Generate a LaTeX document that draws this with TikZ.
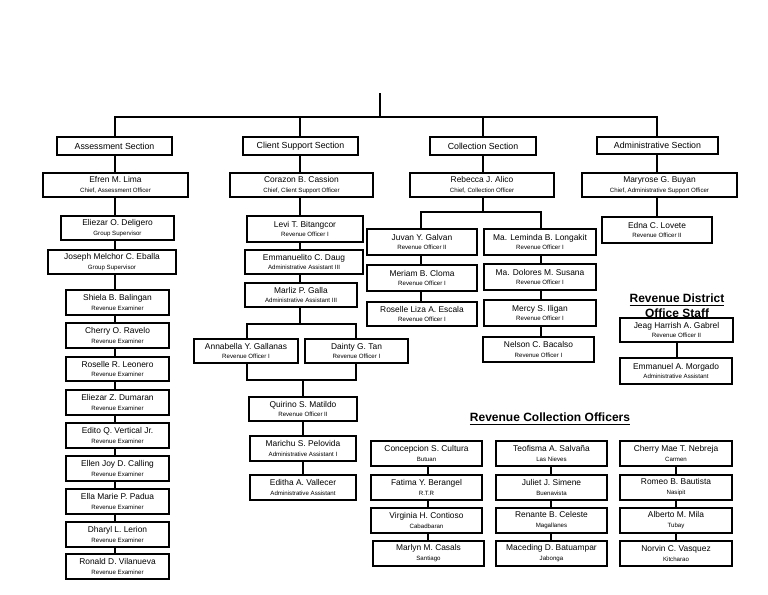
\documentclass[tikz,border=0pt]{standalone}
\usepackage{fontspec}
\setmainfont{Liberation Sans}
\usetikzlibrary{fit}
\newcommand\nm{\fontsize{6.3}{7.4}\selectfont}
\newcommand\sbt{\fontsize{4.6}{5.5}\selectfont}
\newcommand\bx[7]{\node[box,fit={(#2,#3)(#4,#5)}] (#1) {};
  \node[align=center,inner sep=0pt,font=\nm] at (#1.center) {#6\\{\sbt #7}};}
\newcommand\sx[6]{\node[box,fit={(#2,#3)(#4,#5)}] (#1) {};
  \node[inner sep=0pt] at (#1.center) {\fontsize{6.6}{7}\selectfont #6};}
\begin{document}
\begin{tikzpicture}[x=0.75pt,y=-0.75pt,
  box/.style={draw,line width=0.9pt,inner sep=0pt,fill=white},
  con/.style={line width=1.2pt}]
\useasboundingbox (0,0) rectangle (768,594);
\coordinate (top) at (380,93);
\coordinate (bar) at (380,117);
\foreach \n/\xx in {xa/115,xc/300,xq/303,xl/421,xr/541,xd/657,xs/677,xg1/428,xg2/551,xg3/676,xb1/247,xb2/356,xo/483}
  \coordinate (\n) at (\xx,0);
% sections
\sx{ass}{57}{137}{172}{155}{Assessment Section}
\sx{cli}{243}{137}{358}{155}{Client Support Section}
\sx{col}{430}{137}{536}{155}{Collection Section}
\sx{adm}{597}{137}{718}{154}{Administrative Section}
\draw[con] (top) -- (bar);
\draw[con] (ass.north -| xa) -- (xa |- bar) -- (xd |- bar) -- (adm.north -| xd);
\draw[con] (cli.north -| xc) -- (xc |- bar);
\draw[con] (col.north -| xo) -- (xo |- bar);
% chiefs
\bx{efr}{43}{173}{188}{197}{Efren M. Lima}{Chief, Assessment Officer}
\bx{cor}{230}{173}{373}{197}{Corazon B. Cassion}{Chief, Client Support Officer}
\bx{reb}{410}{173}{554}{197}{Rebecca J. Alico}{Chief, Collection Officer}
\bx{mar}{582}{173}{737}{197}{Maryrose G. Buyan}{Chief, Administrative Support Officer}
% assessment column
\bx{eli}{61}{216}{174}{240}{Eliezar O. Deligero}{Group Supervisor}
\bx{jos}{48}{250}{176}{274}{Joseph Melchor C. Eballa}{Group Supervisor}
\bx{a1}{66}{290}{169}{315}{Shiela B. Balingan}{Revenue Examiner}
\bx{a2}{66}{323}{169}{348}{Cherry O. Ravelo}{Revenue Examiner}
\bx{a3}{66}{357}{169}{381}{Roselle R. Leonero}{Revenue Examiner}
\bx{a4}{66}{390}{169}{415}{Eliezar Z. Dumaran}{Revenue Examiner}
\bx{a5}{66}{423}{169}{448}{Edito Q. Vertical Jr.}{Revenue Examiner}
\bx{a6}{66}{456}{169}{481}{Ellen Joy D. Calling}{Revenue Examiner}
\bx{a7}{66}{489}{169}{514}{Ella Marie P. Padua}{Revenue Examiner}
\bx{a8}{66}{522}{169}{547}{Dharyl L. Lerion}{Revenue Examiner}
\bx{a9}{66}{554}{169}{579}{Ronald D. Vilanueva}{Revenue Examiner}
\foreach \u/\v in {ass/efr,efr/eli,eli/jos,jos/a1,a1/a2,a2/a3,a3/a4,a4/a5,a5/a6,a6/a7,a7/a8,a8/a9}
  \draw[con] (\u.south -| xa) -- (\v.north -| xa);
% client column
\bx{lev}{247}{216}{363}{242}{Levi T. Bitangcor}{Revenue Officer I}
\bx{emm}{245}{250}{363}{274}{Emmanuelito C. Daug}{Administrative Assistant III}
\bx{mlz}{245}{283}{357}{307}{Marliz P. Galla}{Administrative Assistant III}
\bx{ann}{194}{339}{298}{363}{Annabella Y. Gallanas}{Revenue Officer I}
\bx{dai}{305}{339}{408}{363}{Dainty G. Tan}{Revenue Officer I}
\bx{qui}{249}{397}{357}{421}{Quirino S. Matildo}{Revenue Officer II}
\bx{mch}{250}{436}{356}{461}{Marichu S. Pelovida}{Administrative Assistant I}
\bx{edi}{250}{475}{356}{500}{Editha A. Vallecer}{Administrative Assistant}
\foreach \u/\v in {cli/cor,cor/lev,lev/emm,emm/mlz}
  \draw[con] (\u.south -| xc) -- (\v.north -| xc);
\coordinate (s1) at (300,324);
\coordinate (s2) at (303,380);
\draw[con] (mlz.south -| xc) -- (s1);
\draw[con] (ann.north -| xb1) -- (xb1 |- s1) -- (xb2 |- s1) -- (dai.north -| xb2);
\draw[con] (ann.south -| xb1) -- (xb1 |- s2) -- (xb2 |- s2) -- (dai.south -| xb2);
\draw[con] (s2) -- (qui.north -| xq);
\foreach \u/\v in {qui/mch,mch/edi}
  \draw[con] (\u.south -| xq) -- (\v.north -| xq);
% collection
\bx{jua}{367}{229}{477}{255}{Juvan Y. Galvan}{Revenue Officer II}
\bx{lem}{484}{229}{596}{255}{Ma. Leminda B. Longakit}{Revenue Officer I}
\bx{mer}{367}{265}{477}{291}{Meriam B. Cloma}{Revenue Officer I}
\bx{ros}{367}{302}{477}{326}{Roselle Liza A. Escala}{Revenue Officer I}
\bx{dol}{484}{264}{596}{290}{Ma. Dolores M. Susana}{Revenue Officer I}
\bx{mrc}{484}{300}{596}{326}{Mercy S. Iligan}{Revenue Officer I}
\bx{nel}{483}{337}{594}{362}{Nelson C. Bacalso}{Revenue Officer I}
\coordinate (cb) at (483,212);
\draw[con] (col.south -| xo) -- (reb.north -| xo);
\draw[con] (reb.south -| xo) -- (cb);
\draw[con] (jua.north -| xl) -- (xl |- cb) -- (xr |- cb) -- (lem.north -| xr);
\draw[line width=0.8pt] (jua.south -| xl) -- (mer.north -| xl) (mer.south -| xl) -- (ros.north -| xl);
\draw[line width=0.8pt] (lem.south -| xr) -- (dol.north -| xr) (dol.south -| xr) -- (mrc.north -| xr) (mrc.south -| xr) -- (nel.north -| xr);
% admin
\bx{edn}{602}{217}{712}{243}{Edna C. Lovete}{Revenue Officer II}
\draw[con] (adm.south -| xd) -- (mar.north -| xd);
\draw[con] (mar.south -| xd) -- (edn.north -| xd);
% revenue district office staff
\node[font=\bfseries\fontsize{9}{10}\selectfont] (rdt) at (677,300) {\underline{Revenue District}};
\node[font=\bfseries\fontsize{9}{10}\selectfont] (rdt2) at (677,313) {Office Staff};
\bx{jea}{620}{318}{733}{342}{Jeag Harrish A. Gabrel}{Revenue Officer II}
\bx{emo}{620}{358}{732}{384}{Emmanuel A. Morgado}{Administrative Assistant}
\draw[con] (jea.south -| xs) -- (emo.north -| xs);
% revenue collection officers
\node[font=\bfseries\fontsize{9}{10}\selectfont] (rct) at (550,419) {\underline{Revenue Collection Officers}};
\bx{r11}{371}{441}{482}{466}{Concepcion S. Cultura}{Butuan}
\bx{r12}{371}{475}{482}{500}{Fatima Y. Berangel}{R.T.R}
\bx{r13}{371}{508}{482}{533}{Virginia H. Contioso}{Cabadbaran}
\bx{r14}{373}{541}{484}{566}{Marlyn M. Casals}{Santiago}
\bx{r21}{496}{441}{607}{466}{Teofisma A. Salvaña}{Las Nieves}
\bx{r22}{496}{475}{607}{500}{Juliet J. Simene}{Buenavista}
\bx{r23}{496}{508}{607}{533}{Renante B. Celeste}{Magallanes}
\bx{r24}{496}{541}{607}{566}{Maceding D. Batuampar}{Jabonga}
\bx{r31}{620}{441}{732}{466}{Cherry Mae T. Nebreja}{Carmen}
\bx{r32}{620}{475}{732}{500}{Romeo B. Bautista}{Nasipit}
\bx{r33}{620}{508}{732}{533}{Alberto M. Mila}{Tubay}
\bx{r34}{620}{541}{732}{566}{Norvin C. Vasquez}{Kitcharao}
\foreach \c in {1,2,3}
  \foreach \a/\b in {1/2,2/3,3/4}
    \draw[con] (r\c\a.south -| xg\c) -- (r\c\b.north -| xg\c);
\end{tikzpicture}
\end{document}
